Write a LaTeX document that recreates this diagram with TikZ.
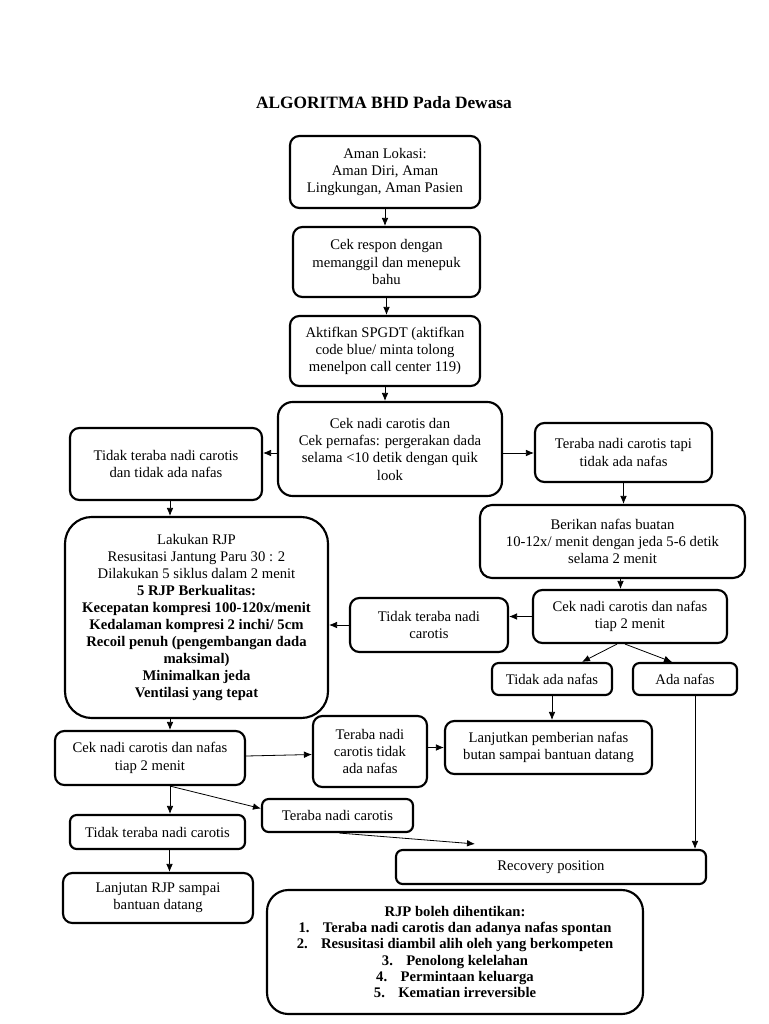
\documentclass[tikz,border=0pt]{standalone}
\usepackage{fontspec}
\setmainfont{Liberation Serif}
\usetikzlibrary{arrows.meta,calc}
\begin{document}
\begin{tikzpicture}[x=0.75pt,y=-0.75pt,
  box/.style={draw,line width=1.6pt,rounded corners=7pt,align=center,
    font=\fontsize{11}{13}\selectfont,inner sep=2pt},
  arr/.style={line width=0.6pt,-{Latex[length=6pt,width=5pt]}}]
\fill[white] (0,0) rectangle (768,1024);
\useasboundingbox (0,0) rectangle (768,1024);

\node[font=\fontsize{13}{15}\selectfont\bfseries] (title) at (384,103) {ALGORITMA BHD Pada Dewasa};

\node[box,minimum width=142.5pt,minimum height=54pt] (n2) at (385,172)
  {Aman Lokasi:\\Aman Diri, Aman\\Lingkungan, Aman Pasien};
\node[box,minimum width=140.25pt,minimum height=52.5pt] (n3) at (386.5,262)
  {Cek respon dengan\\memanggil dan menepuk\\bahu};
\node[box,minimum width=142.5pt,minimum height=52.5pt] (n4) at (385,351)
  {Aktifkan SPGDT (aktifkan\\code blue/ minta tolong\\menelpon call center 119)};
\node[box,rounded corners=11pt,minimum width=168pt,minimum height=70.5pt] (n5) at (390,449)
  {Cek nadi carotis dan\\Cek pernafas: pergerakan dada\\selama <10 detik dengan quik\\look};
\node[box,minimum width=144pt,minimum height=54pt] (n6) at (166,464)
  {Tidak teraba nadi carotis\\dan tidak ada nafas};
\node[box,minimum width=132.75pt,minimum height=44.25pt] (n7) at (623.5,452.5)
  {Teraba nadi carotis tapi\\tidak ada nafas};
\node[box,rounded corners=9pt,minimum width=198.75pt,minimum height=54.75pt] (n8) at (612.5,541.5)
  {Berikan nafas buatan\\10-12x/ menit dengan jeda 5-6 detik\\selama 2 menit};
\node[box,minimum width=145.5pt,minimum height=39.75pt] (n9) at (630,616.5)
  {Cek nadi carotis dan nafas\\tiap 2 menit};
\node[box,minimum width=118.5pt,minimum height=40.5pt] (n10) at (429,625)
  {Tidak teraba nadi\\carotis};
\node[box,rounded corners=20pt,minimum width=197.25pt,minimum height=150.75pt,
  font=\fontsize{11}{12.75}\selectfont] (n11) at (196.5,617.5)
  {Lakukan RJP\\Resusitasi Jantung Paru 30 : 2\\Dilakukan 5 siklus dalam 2 menit\\
   \textbf{5 RJP Berkualitas:}\\\textbf{Kecepatan kompresi 100-120x/menit}\\
   \textbf{Kedalaman kompresi 2 inchi/ 5cm}\\\textbf{Recoil penuh (pengembangan dada}\\
   \textbf{maksimal)}\\\textbf{Minimalkan jeda}\\\textbf{Ventilasi yang tepat}};
\node[box,rounded corners=5pt,minimum width=90pt,minimum height=24pt] (n12) at (552,679) {Tidak ada nafas};
\node[box,rounded corners=5pt,minimum width=78pt,minimum height=24pt] (n13) at (685,679) {Ada nafas};
\node[box,minimum width=142.5pt,minimum height=40.5pt] (n14) at (150,758)
  {Cek nadi carotis dan nafas\\tiap 2 menit};
\node[box,minimum width=85.5pt,minimum height=53.25pt] (n15) at (370,751.5)
  {Teraba nadi\\carotis tidak\\ada nafas};
\node[box,minimum width=155.25pt,minimum height=39.75pt] (n16) at (548.5,747.5)
  {Lanjutkan pemberian nafas\\butan sampai bantuan datang};
\node[box,rounded corners=5pt,minimum width=113.25pt,minimum height=24.75pt] (n17) at (337.5,815.5)
  {Teraba nadi carotis};
\node[box,rounded corners=5pt,minimum width=131.25pt,minimum height=25.5pt] (n18) at (157.5,832)
  {Tidak teraba nadi carotis};
\node[box,rounded corners=5pt,minimum width=232.5pt,minimum height=25.5pt] (n19) at (551,867)
  {Recovery position};
\node[box,minimum width=142.5pt,minimum height=37.5pt] (n20) at (158,898)
  {Lanjutan RJP sampai\\bantuan datang};
\node[box,rounded corners=16pt,minimum width=282pt,minimum height=93pt,
  font=\fontsize{11}{12.2}\selectfont\bfseries] (n21) at (455,952)
  {RJP boleh dihentikan:\\
   1.\hspace{10pt}Teraba nadi carotis dan adanya nafas spontan\\
   2.\hspace{10pt}Resusitasi diambil alih oleh yang berkompeten\\
   3.\hspace{10pt}Penolong kelelahan\\
   4.\hspace{10pt}Permintaan keluarga\\
   5.\hspace{10pt}Kematian irreversible};

% connectors
\draw[arr] (n2.south) -- (n2.south |- n3.north);
\draw[arr] (n3.south) -- (n3.south |- n4.north);
\draw[arr] (n4.south) -- (n4.south |- n5.north);
\coordinate (a56) at ($(n5.west)+(0,4)$);
\draw[arr] (a56) -- (a56 -| n6.east);
\coordinate (a57) at ($(n5.east)+(0,4)$);
\draw[arr] (a57) -- (a57 -| n7.west);
\coordinate (a611) at ($(n6.south)+(4,0)$);
\draw[arr] (a611) -- (a611 |- n11.north);
\draw[arr] (n7.south) -- (n7.south |- n8.north);
\coordinate (a89) at ($(n8.south)+(8,0)$);
\draw[arr] (a89) -- (a89 |- n9.north);
\draw[arr] (n9.west) -- (n9.west -| n10.east);
\draw[arr] (n10.west) -- (n10.west -| n11.east);
\draw[arr] ($(n9.south)+(-13,0)$) -- ($(n12.north)+(30,0)$);
\draw[arr] ($(n9.south)+(-5,0)$) -- ($(n13.north)+(-13,0)$);
\draw[arr] (n12.south) -- (n12.south |- n16.north);
\coordinate (a1319) at ($(n13.south)+(10,0)$);
\draw[arr] (a1319) -- (a1319 |- n19.north);
\coordinate (a1114) at ($(n14.north)+(20,0)$);
\draw[arr] (a1114 |- n11.south) -- (a1114);
\draw[arr] ($(n14.east)+(0,-2)$) -- ($(n15.west)+(0,3)$);
\draw[arr] (n16.west -| n15.east) -- (n16.west);
\coordinate (b14) at ($(n14.south)+(20,0)$);
\draw[arr] (b14) -- (b14 |- n18.north);
\draw[arr] (b14) -- ($(n17.west)+(0,-7)$);
\coordinate (e1719) at ($(n19.north)+(-76,-5)$);
\draw[arr] ($(n17.south)+(2,0)$) -- (e1719);
\coordinate (a1820) at ($(n18.south)+(12,0)$);
\draw[arr] (a1820) -- (a1820 |- n20.north);
\end{tikzpicture}
\end{document}
